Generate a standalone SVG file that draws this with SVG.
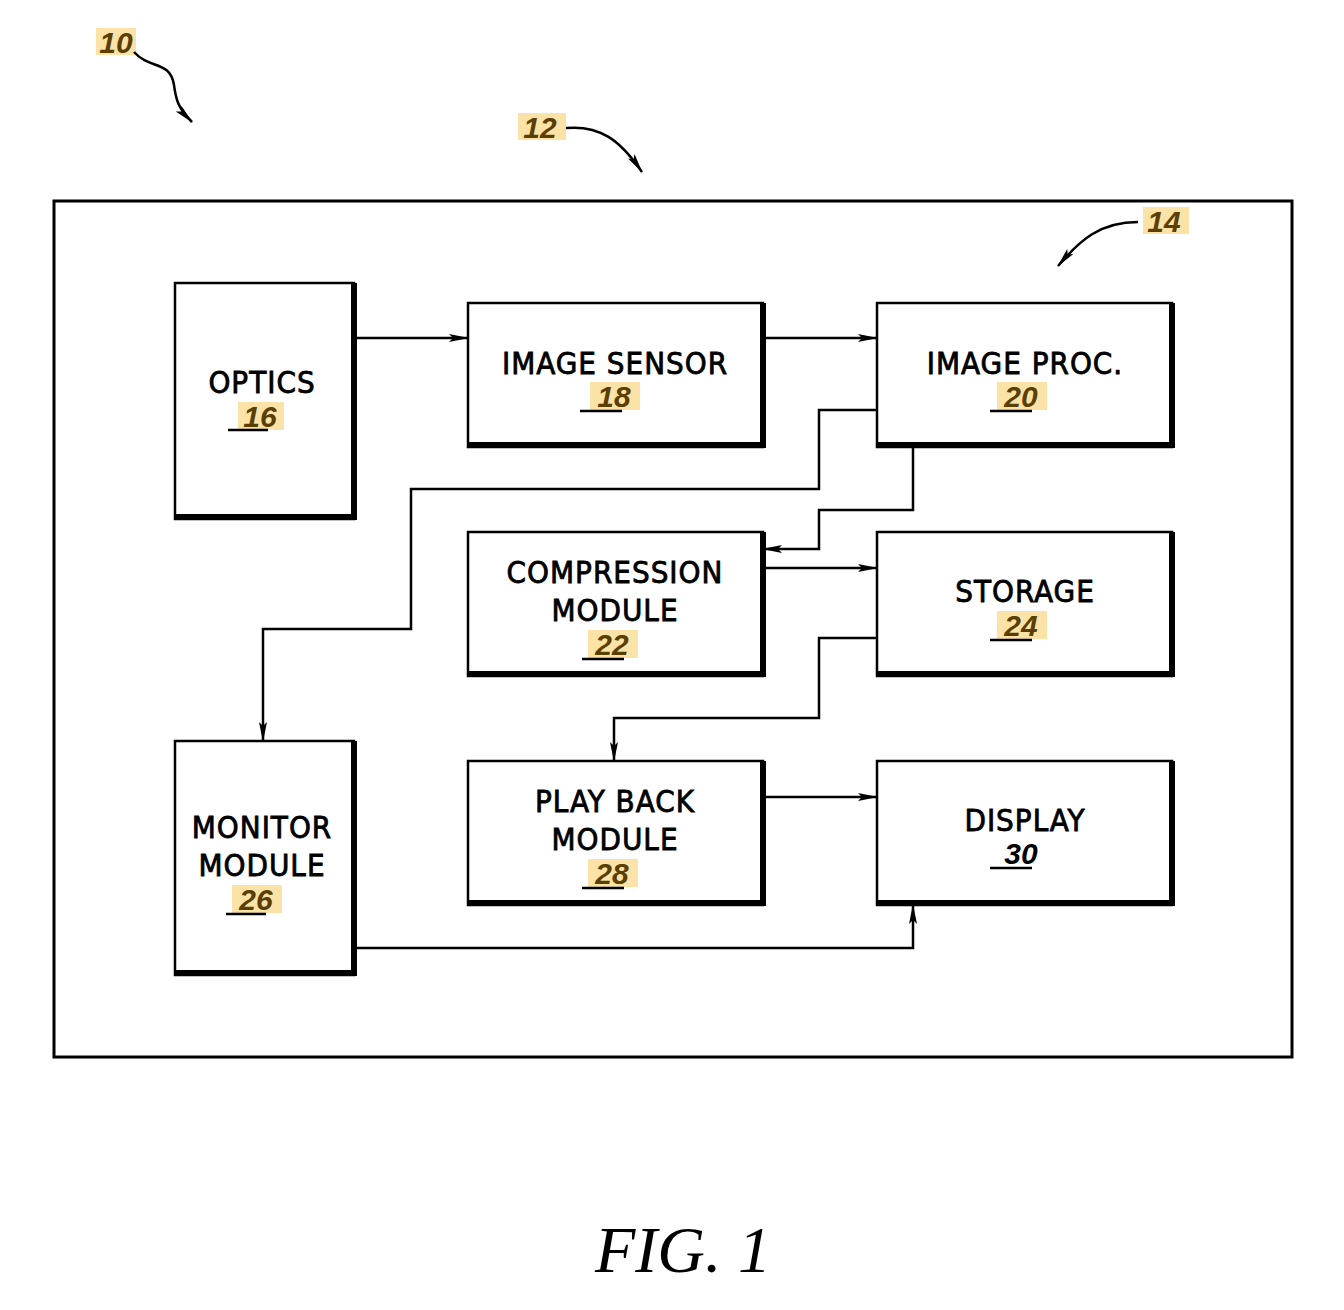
<svg xmlns="http://www.w3.org/2000/svg" width="1344" height="1310" viewBox="0 0 1344 1310">
<style>
.box{fill:#fff;stroke:#000;stroke-width:2.5}
.sh{stroke:#000;stroke-width:6;fill:none}
.t{font-family:"DejaVu Sans Condensed","DejaVu Sans",sans-serif;font-size:31px;text-anchor:middle;fill:#000;stroke:#000;stroke-width:0.8;letter-spacing:1px}
.n{font-family:"Liberation Sans",sans-serif;font-style:italic;font-weight:bold;font-size:30px;fill:#5a3f00;text-anchor:middle}
.hl{fill:#fbe3a8}
.c{stroke:#000;stroke-width:2.5;fill:none}
</style>
<defs>
<marker id="a" markerWidth="20" markerHeight="10" refX="19" refY="5" orient="auto" markerUnits="userSpaceOnUse"><path d="M0,1 L20,5 L0,9 L4,5 Z" fill="#000"/></marker>
</defs>
<rect width="1344" height="1310" fill="#fff"/>
<rect x="54" y="201" width="1238" height="856" fill="none" stroke="#000" stroke-width="3"/>
<g id="ref10"><rect class="hl" x="96" y="28" width="40" height="27"/><text class="n" x="116" y="53">10</text>
<path class="c" d="M134,52 C150,70 170,60 174,85 C176,100 178,108 192,122" marker-end="url(#a)"/></g>
<g id="ref12"><rect class="hl" x="518" y="113" width="48" height="27"/><text class="n" x="540" y="138">12</text>
<path class="c" d="M566,128 C600,125 620,140 642,172" marker-end="url(#a)"/></g>
<g id="ref14"><rect class="hl" x="1143" y="207" width="46" height="27"/><text class="n" x="1164" y="232">14</text>
<path class="c" d="M1138,222 C1100,222 1080,240 1058,266" marker-end="url(#a)"/></g>
<g id="optics"><rect class="box" x="175" y="283" width="179" height="236"/><path class="sh" d="M175,517 H354 V283"/>
<text class="t" x="262" y="393">OPTICS</text><rect class="hl" x="238" y="402" width="46" height="28"/><text class="n" x="260" y="427">16</text><path class="c" d="M228,430 H268"/></g>
<g id="sensor"><rect class="box" x="468" y="303" width="295" height="144"/><path class="sh" d="M468,445 H763 V303"/>
<text class="t" x="615" y="374">IMAGE  SENSOR</text><rect class="hl" x="590" y="382" width="50" height="28"/><text class="n" x="614" y="407">18</text><path class="c" d="M580,411 H622"/></g>
<g id="proc"><rect class="box" x="877" y="303" width="295" height="144"/><path class="sh" d="M877,445 H1172 V303"/>
<text class="t" x="1025" y="374">IMAGE  PROC.</text><rect class="hl" x="997" y="382" width="50" height="28"/><text class="n" x="1021" y="407">20</text><path class="c" d="M990,411 H1032"/></g>
<g id="compression"><rect class="box" x="468" y="532" width="295" height="144"/><path class="sh" d="M468,674 H763 V532"/>
<text class="t" x="615" y="583">COMPRESSION</text><text class="t" x="615" y="621">MODULE</text><rect class="hl" x="588" y="630" width="50" height="28"/><text class="n" x="612" y="655">22</text><path class="c" d="M582,659 H624"/></g>
<g id="storage"><rect class="box" x="877" y="532" width="295" height="144"/><path class="sh" d="M877,674 H1172 V532"/>
<text class="t" x="1025" y="602">STORAGE</text><rect class="hl" x="997" y="611" width="50" height="28"/><text class="n" x="1021" y="636">24</text><path class="c" d="M990,640 H1032"/></g>
<g id="playback"><rect class="box" x="468" y="761" width="295" height="144"/><path class="sh" d="M468,903 H763 V761"/>
<text class="t" x="615" y="812">PLAY  BACK</text><text class="t" x="615" y="850">MODULE</text><rect class="hl" x="588" y="859" width="50" height="28"/><text class="n" x="612" y="884">28</text><path class="c" d="M582,888 H624"/></g>
<g id="display"><rect class="box" x="877" y="761" width="295" height="144"/><path class="sh" d="M877,903 H1172 V761"/>
<text class="t" x="1025" y="831">DISPLAY</text><text class="n" x="1021" y="864" style="fill:#000">30</text><path class="c" d="M990,868 H1032"/></g>
<g id="monitor"><rect class="box" x="175" y="741" width="179" height="234"/><path class="sh" d="M175,973 H354 V741"/>
<text class="t" x="262" y="838">MONITOR</text><text class="t" x="262" y="876">MODULE</text><rect class="hl" x="232" y="885" width="50" height="28"/><text class="n" x="256" y="910">26</text><path class="c" d="M226,914 H266"/></g>
<g id="connectors">
<path class="c" d="M354,338 H468" marker-end="url(#a)"/>
<path class="c" d="M763,338 H877" marker-end="url(#a)"/>
<path class="c" d="M877,410 H819 V489 H411 V629 H263 V741" marker-end="url(#a)"/>
<path class="c" d="M913,447 V510 H819 V549 H763" marker-end="url(#a)"/>
<path class="c" d="M763,568 H877" marker-end="url(#a)"/>
<path class="c" d="M877,638 H819 V718 H614 V761" marker-end="url(#a)"/>
<path class="c" d="M763,797 H877" marker-end="url(#a)"/>
<path class="c" d="M354,948 H913 V905" marker-end="url(#a)"/>
</g>
<text x="683" y="1272" font-family="'Liberation Serif',serif" font-style="italic" font-size="66" text-anchor="middle">FIG. 1</text>
</svg>
